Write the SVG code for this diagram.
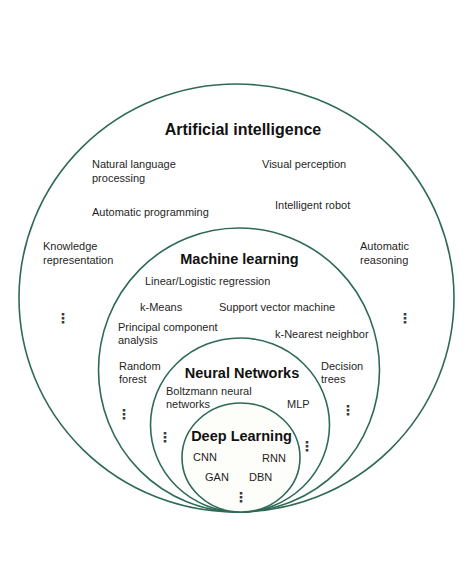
<svg xmlns="http://www.w3.org/2000/svg" width="474" height="579" viewBox="0 0 474 579">
<style>
.ring{fill:none;stroke:#2f6a58;stroke-width:1.6}
.t{font-family:"Liberation Sans",Arial,sans-serif;font-size:11px;fill:#1f1f1f}
.h{font-family:"Liberation Sans",Arial,sans-serif;font-weight:bold;fill:#111}
.d{font-family:"DejaVu Sans",sans-serif;font-size:14px;font-weight:bold;fill:#3a3a3a;text-anchor:middle}
</style>
<rect width="474" height="579" fill="#ffffff"/>
<g id="ai">
<ellipse class="ring" cx="236.5" cy="298" rx="217.5" ry="214"/>
<text class="h" x="243" y="135" font-size="16" text-anchor="middle">Artificial intelligence</text>
<text class="t" x="92" y="168">Natural language</text>
<text class="t" x="92" y="182">processing</text>
<text class="t" x="262" y="168">Visual perception</text>
<text class="t" x="92" y="216">Automatic programming</text>
<text class="t" x="275" y="209">Intelligent robot</text>
<text class="t" x="43" y="250">Knowledge</text>
<text class="t" x="43" y="264">representation</text>
<text class="t" x="360" y="250">Automatic</text>
<text class="t" x="360" y="264">reasoning</text>
<text class="d" x="63" y="323">⋮</text>
<text class="d" x="405" y="323">⋮</text>
</g>
<g id="ml">
<ellipse class="ring" cx="239" cy="370" rx="140.5" ry="142"/>
<text class="h" x="239.5" y="264" font-size="14.5" text-anchor="middle">Machine learning</text>
<text class="t" x="145" y="285">Linear/Logistic regression</text>
<text class="t" x="140" y="311">k-Means</text>
<text class="t" x="219" y="311">Support vector machine</text>
<text class="t" x="118" y="331">Principal component</text>
<text class="t" x="118" y="344">analysis</text>
<text class="t" x="275" y="338">k-Nearest neighbor</text>
<text class="t" x="119" y="370">Random</text>
<text class="t" x="119" y="383">forest</text>
<text class="t" x="321" y="370">Decision</text>
<text class="t" x="321" y="383">trees</text>
<text class="d" x="124" y="419">⋮</text>
<text class="d" x="348" y="415">⋮</text>
</g>
<g id="nn">
<ellipse class="ring" cx="240" cy="425" rx="89.5" ry="87"/>
<text class="h" x="242" y="378" font-size="14.5" text-anchor="middle">Neural Networks</text>
<text class="t" x="166" y="395">Boltzmann neural</text>
<text class="t" x="166" y="408">networks</text>
<text class="t" x="287" y="408">MLP</text>
<text class="d" x="165" y="442">⋮</text>
<text class="d" x="307" y="451">⋮</text>
</g>
<g id="dl">
<ellipse cx="241" cy="457.5" rx="59" ry="54.5" fill="#fdfdfa" stroke="#2f6a58" stroke-width="1.6"/>
<text class="h" x="241.5" y="441" font-size="14.5" text-anchor="middle">Deep Learning</text>
<text class="t" x="193" y="461">CNN</text>
<text class="t" x="262" y="462">RNN</text>
<text class="t" x="205" y="481">GAN</text>
<text class="t" x="249" y="481">DBN</text>
<text class="d" x="241" y="502">⋮</text>
</g>
</svg>
